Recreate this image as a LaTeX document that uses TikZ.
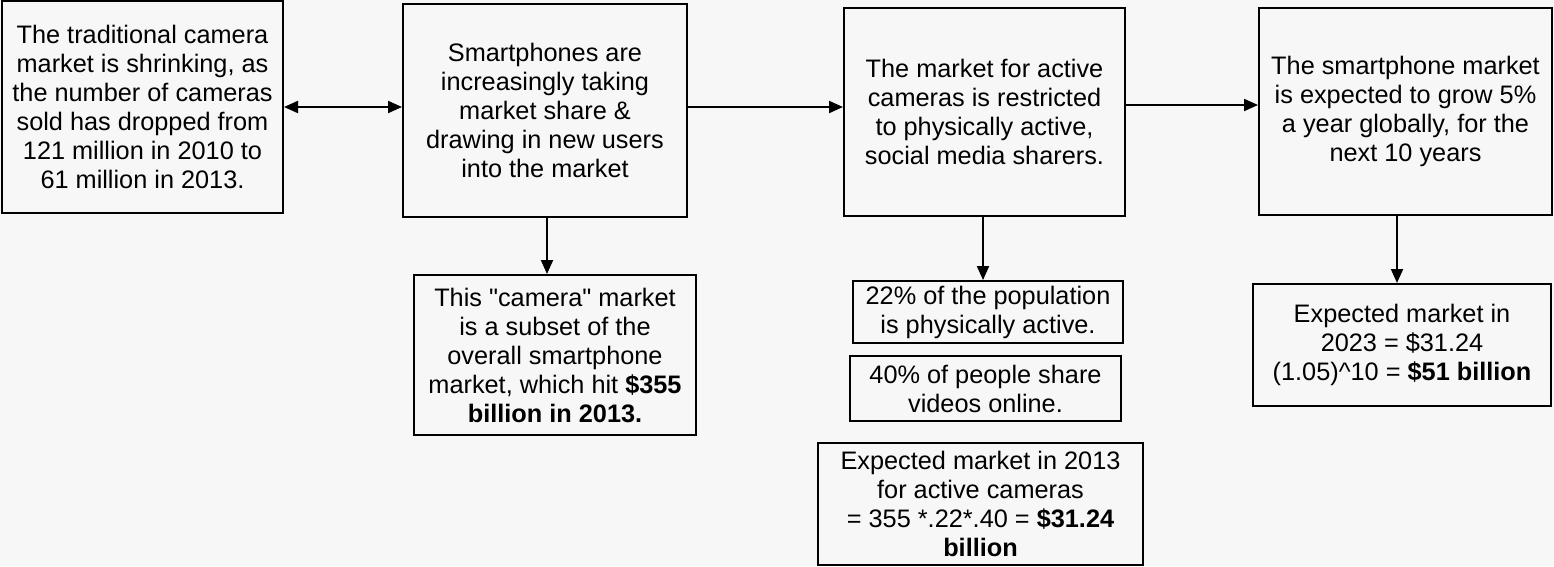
\documentclass[tikz,border=0pt]{standalone}
\usepackage{fontspec}
\setmainfont{Liberation Sans}[Ligatures=TeXOff]
\usetikzlibrary{arrows.meta}
\definecolor{bg}{RGB}{247,247,247}
\begin{document}
\begin{tikzpicture}[x=1pt,y=-1pt,
  box/.style={draw=black, line width=2pt, fill=bg, inner sep=0pt, align=center,
    font=\fontsize{25.3}{29}\selectfont},
  conn/.style={line width=2pt, -{Triangle[length=14pt,width=12pt]}},
  dconn/.style={line width=2pt, {Triangle[length=14pt,width=12pt]}-{Triangle[length=14pt,width=12pt]}}]
\fill[bg] (0,0) rectangle (1554,566);
\useasboundingbox (0,0) rectangle (1554,566);

\node[box, minimum width=281pt, minimum height=212pt] (A) at (142.5,107)
  {The traditional camera\\market is shrinking, as\\the number of cameras\\sold has dropped from\\121 million in 2010 to\\61 million in 2013.};
\node[box, minimum width=284pt, minimum height=213pt] (B) at (545,110.5)
  {Smartphones are\\increasingly taking\\market share \&\\drawing in new users\\into the market};
\node[box, minimum width=281pt, minimum height=208pt] (C) at (984.5,112)
  {The market for active\\cameras is restricted\\to physically active,\\social media sharers.};
\node[box, minimum width=293pt, minimum height=207pt] (D) at (1405.5,111.5)
  {The smartphone market\\is expected to grow 5\%\\a year globally, for the\\next 10 years};
\node[box, minimum width=282pt, minimum height=160pt] (G) at (555,355)
  {This "camera" market\\is a subset of the\\overall smartphone\\market, which hit \textbf{\$355}\\\textbf{billion in 2013.}};
\node[box, minimum width=270pt, minimum height=62pt] (E1) at (988,312)
  {22\% of the population\\is physically active.};
\node[box, minimum width=271pt, minimum height=65pt] (E2) at (985.5,388.5)
  {40\% of people share\\videos online.};
\node[box, minimum width=325pt, minimum height=122pt] (E3) at (980.5,504)
  {Expected market in 2013\\for active cameras\\= 355 *.22*.40 = \textbf{\$31.24}\\\textbf{billion}};
\node[box, minimum width=298pt, minimum height=122pt] (F) at (1402,345)
  {Expected market in\\2023 = \$31.24\\(1.05)\textasciicircum 10 = \textbf{\$51 billion}};

\draw[dconn] (A.east) -- (A.east -| B.west);
\draw[conn] ([yshift=3.5pt]B.east) -- ([yshift=3.5pt]B.east -| C.west);
\draw[conn] ([yshift=7pt]C.east) -- ([yshift=7pt]C.east -| D.west);
\draw[conn] ([xshift=2pt]B.south) -- ([xshift=2pt]B.south |- G.north);
\draw[conn] ([xshift=-1.5pt]C.south) -- ([xshift=-1.5pt]C.south |- E1.north);
\draw[conn] ([xshift=-8.5pt]D.south) -- ([xshift=-8.5pt]D.south |- F.north);
\end{tikzpicture}
\end{document}
